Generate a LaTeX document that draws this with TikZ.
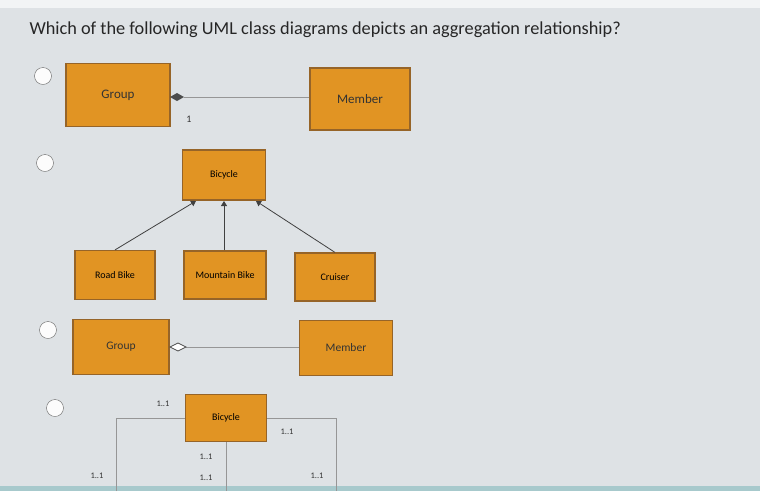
\documentclass[tikz,border=0pt]{standalone}
\usepackage{fontspec}
\setmainfont{Carlito}
\usetikzlibrary{arrows.meta}
\definecolor{bg}{RGB}{222,226,229}
\definecolor{boxf}{RGB}{225,148,35}
\definecolor{boxd}{RGB}{150,100,40}
\definecolor{ln}{RGB}{150,150,150}
\tikzset{
 cls/.style={draw=boxd,line width=1.2pt,fill=boxf,inner sep=0pt,font=\fontsize{11.5}{13}\selectfont\color{black!80}},
 radio/.style={circle,draw=gray!80!black,fill=white!90!bg,minimum size=17pt,inner sep=0pt},
 mult/.style={font=\fontsize{8.5}{10}\selectfont,text=black!80},
 conn/.style={draw=ln,line width=0.8pt},
 gen/.style={draw=black!75,line width=0.8pt,-{Triangle[length=5pt,width=6pt]}}
}
\begin{document}
\begin{tikzpicture}[x=1pt,y=-1pt]
\useasboundingbox (0,0) rectangle (760,491);
\fill[bg] (0,0) rectangle (760,491);
\fill[white!60!bg] (0,0) rectangle (760,8);
\fill[teal!25!bg] (0,486) rectangle (760,491);
\node[anchor=west,font=\fontsize{18.3}{20}\selectfont,text=black!85] (q) at (26,30) {Which of the following UML class diagrams depicts an aggregation relationship?};
% radios
\node[radio] (r1) at (43,76) {};
\node[radio] (r2) at (45,163) {};
\node[radio] (r3) at (48,330) {};
\node[radio] (r4) at (55,408) {};
% option 1
\node[cls,minimum width=104pt,minimum height=63pt] (g1) at (118,95) {\fontsize{13}{14}\selectfont Group};
\node[cls,minimum width=100pt,minimum height=62pt] (m1) at (360,99) {\fontsize{13}{14}\selectfont Member};
\draw[conn] (m1.west|-0,97) -- (184,97);
\fill[black!70] (170,97) -- (177,93) -- (184,97) -- (177,101) -- cycle;
\node[mult,font=\fontsize{10}{11}\selectfont] (one) at (189,119) {1};
% option 2
\node[cls,minimum width=83pt,minimum height=50pt,font=\fontsize{10}{11}\selectfont] (b2) at (224,175) {Bicycle};
\node[cls,minimum width=80pt,minimum height=49pt,font=\fontsize{10}{11}\selectfont] (rb) at (115,275) {Road Bike};
\node[cls,minimum width=82pt,minimum height=48pt,font=\fontsize{10}{11}\selectfont] (mb) at (225,275) {Mountain Bike};
\node[cls,minimum width=80pt,minimum height=48pt,font=\fontsize{10}{11}\selectfont] (cr) at (335,277) {Cruiser};
\draw[gen] (rb.north) -- (196,201);
\draw[gen] (mb.north -| 224,0) -- (224,201);
\draw[gen] (cr.north) -- (256,201);
% option 3
\node[cls,minimum width=96pt,minimum height=55pt] (g3) at (121,347) {Group};
\node[cls,minimum width=93pt,minimum height=55pt] (m3) at (346,348) {Member};
\draw[conn] (m3.west|-0,347) -- (186,347);
\draw[black!70,fill=white,line width=0.7pt] (170,347) -- (178,343) -- (186,347) -- (178,351) -- cycle;
% option 4
\draw[conn] (116,491) -- (116,418) -- (336,418) -- (336,491);
\node[cls,minimum width=81pt,minimum height=47pt,font=\fontsize{10}{11}\selectfont] (b4) at (226,418) {Bicycle};
\draw[conn] (b4.south) -- (226,491);
\node[mult] (l1) at (163,404) {1..1};
\node[mult] (l2) at (287,432) {1..1};
\node[mult] (l3) at (206,457) {1..1};
\node[mult] (l4) at (206,478) {1..1};
\node[mult] (l5) at (97,476) {1..1};
\node[mult] (l6) at (317,476) {1..1};
\end{tikzpicture}
\end{document}
